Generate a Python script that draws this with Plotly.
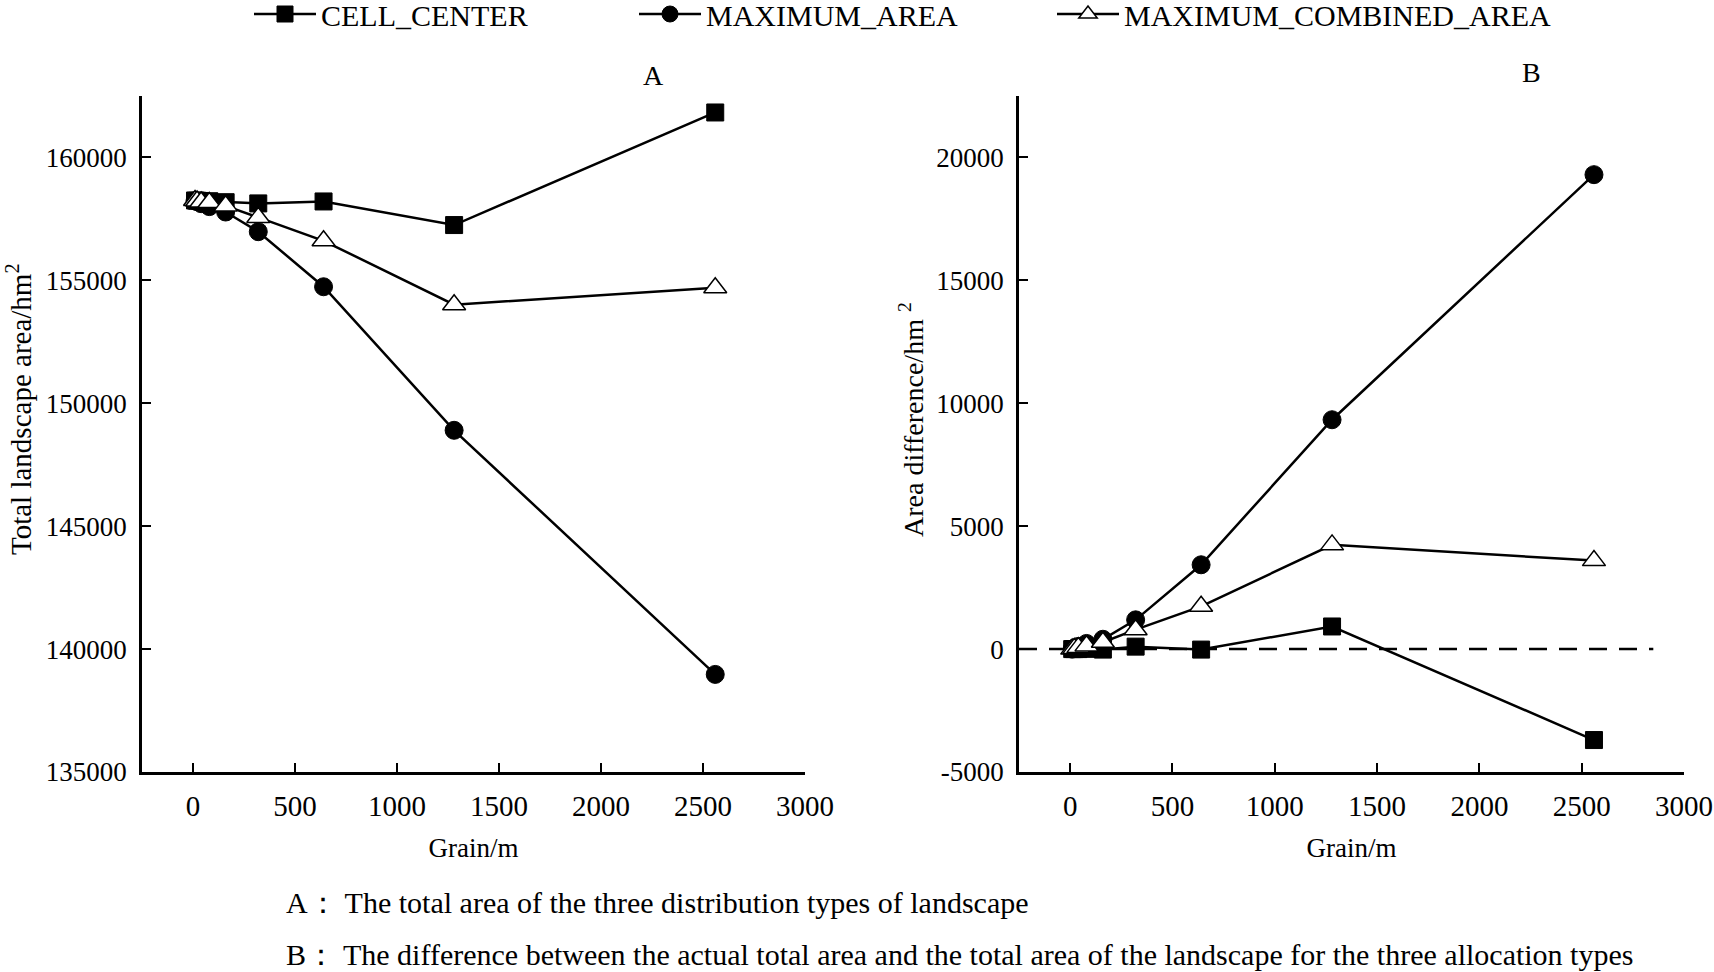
import plotly.graph_objects as go

# ---------------- data ----------------
grain = [10, 20, 40, 80, 160, 320, 640, 1280, 2560]

# Panel A: total landscape area (hm^2)
total_cell_center = [158250, 158240, 158230, 158220, 158180, 158130, 158210, 157250, 161830]
total_max_area = [158240, 158200, 158120, 158000, 157780, 156980, 154740, 148900, 138970]
total_max_combined = [158250, 158230, 158190, 158170, 158030, 157560, 156610, 154010, 154700]

# Panel B: area difference (hm^2)
diff_cell_center = [0, 0, 0, 10, -20, 100, -20, 920, -3700]
diff_max_area = [0, 40, 110, 230, 400, 1190, 3430, 9330, 19300]
diff_max_combined = [0, 20, 60, 130, 280, 790, 1740, 4240, 3600]

series_names = ["CELL_CENTER", "MAXIMUM_AREA", "MAXIMUM_COMBINED_AREA"]
zero_line_x = [-250, 2850]

x_ticks = [0, 500, 1000, 1500, 2000, 2500, 3000]
x_ticktext = ["0", "500", "1000", "1500", "2000", "2500", "3000"]
yA_ticks = [135000, 140000, 145000, 150000, 155000, 160000]
yA_ticktext = ["135000", "140000", "145000", "150000", "155000", "160000"]
yB_ticks = [-5000, 0, 5000, 10000, 15000, 20000]
yB_ticktext = ["-5000", "0", "5000", "10000", "15000", "20000"]

title_yA = "Total landscape area/hm<sup>2</sup>"
title_yB = "Area difference/hm <sup>2</sup>"
title_x = "Grain/m"
caption_a = "A\uff1a The total area of the three distribution types of landscape"
caption_b = "B\uff1a The difference between the actual total area and the total area of the landscape for the three allocation types"

# ---------------- style ----------------
FONT = "Liberation Serif"
W, H = 1714, 972
styles = [
    dict(symbol="square", size=17, color="black", line=dict(color="black", width=1)),
    dict(symbol="circle", size=18, color="black", line=dict(color="black", width=1)),
    dict(symbol="triangle-up", size=20, color="white", line=dict(color="black", width=1.5)),
]
legends = ["legend", "legend2", "legend3"]

fig = go.Figure()

A_series = [total_cell_center, total_max_area, total_max_combined]
B_series = [diff_cell_center, diff_max_area, diff_max_combined]

for i, name in enumerate(series_names):
    fig.add_trace(go.Scatter(
        x=grain, y=A_series[i], name=name, mode="lines+markers",
        line=dict(color="black", width=2.5), marker=styles[i],
        xaxis="x", yaxis="y", legend=legends[i], showlegend=True,
    ))
for i, name in enumerate(series_names):
    fig.add_trace(go.Scatter(
        x=grain, y=B_series[i], name=name, mode="lines+markers",
        line=dict(color="black", width=2.5), marker=styles[i],
        xaxis="x2", yaxis="y2", showlegend=False,
    ))

fig.add_shape(type="line", xref="x2", yref="y2",
              x0=zero_line_x[0], x1=zero_line_x[1], y0=0, y1=0,
              line=dict(color="black", width=2.5, dash="18px,12px"), layer="below")

xL = [142 / W, 805 / W]
xR = [1019 / W, 1684 / W]
yD = [1 - 772 / H, 1 - 96 / H]

axis_common = dict(
    showline=True, linecolor="black", linewidth=2.5, mirror=False,
    ticks="inside", ticklen=9, tickwidth=2, tickcolor="black",
    showgrid=False, zeroline=False, automargin=False,
)
xtf = dict(family=FONT, size=29, color="black")
ytf = dict(family=FONT, size=27, color="black")

leg_common = dict(yanchor="middle", xanchor="left", orientation="h", y=1 - 14 / H,
                  font=dict(family=FONT, size=30), bgcolor="rgba(0,0,0,0)", itemwidth=62)

fig.update_layout(
    width=W, height=H,
    margin=dict(l=0, r=0, t=0, b=0, autoexpand=False),
    paper_bgcolor="white", plot_bgcolor="white",
    font=dict(family=FONT, color="black"),
    xaxis=dict(domain=xL, anchor="y", range=[-250, 3000], tickvals=x_ticks, ticktext=x_ticktext,
               tickfont=xtf, title=dict(text=title_x, font=dict(family=FONT, size=27), standoff=18),
               ticklabelstandoff=6, **axis_common),
    yaxis=dict(domain=yD, anchor="x", range=[135000, 162500], tickvals=yA_ticks, ticktext=yA_ticktext,
               tickfont=ytf, ticklabelstandoff=7, **axis_common),
    xaxis2=dict(domain=xR, anchor="y2", range=[-250, 3000], tickvals=x_ticks, ticktext=x_ticktext,
                tickfont=xtf, title=dict(text=title_x, font=dict(family=FONT, size=27), standoff=18),
                ticklabelstandoff=6, **axis_common),
    yaxis2=dict(domain=yD, anchor="x2", range=[-5000, 22500], tickvals=yB_ticks, ticktext=yB_ticktext,
                tickfont=ytf, ticklabelstandoff=7, **axis_common),
    legend=dict(x=249 / W, **leg_common),
    legend2=dict(x=634 / W, **leg_common),
    legend3=dict(x=1052 / W, **leg_common),
    annotations=[
        dict(text=title_yA, x=19 / W, y=1 - 409 / H, xref="paper", yref="paper", showarrow=False,
             textangle=-90, font=dict(family=FONT, size=29), xanchor="center", yanchor="middle"),
        dict(text=title_yB, x=912 / W, y=1 - 420 / H, xref="paper", yref="paper", showarrow=False,
             textangle=-90, font=dict(family=FONT, size=28), xanchor="center", yanchor="middle"),
        dict(text="A", x=653 / W, y=1 - 75 / H, xref="paper", yref="paper", showarrow=False,
             font=dict(family=FONT, size=28), xanchor="center", yanchor="middle"),
        dict(text="B", x=1531 / W, y=1 - 73 / H, xref="paper", yref="paper", showarrow=False,
             font=dict(family=FONT, size=28), xanchor="center", yanchor="middle"),
        dict(text=caption_a, x=284 / W, y=1 - 902 / H, xref="paper", yref="paper", showarrow=False,
             font=dict(family=FONT, size=30), xanchor="left", yanchor="middle"),
        dict(text=caption_b, x=284 / W, y=1 - 954 / H, xref="paper", yref="paper", showarrow=False,
             font=dict(family=FONT, size=30), xanchor="left", yanchor="middle"),
    ],
)

fig.write_html("out.html")
